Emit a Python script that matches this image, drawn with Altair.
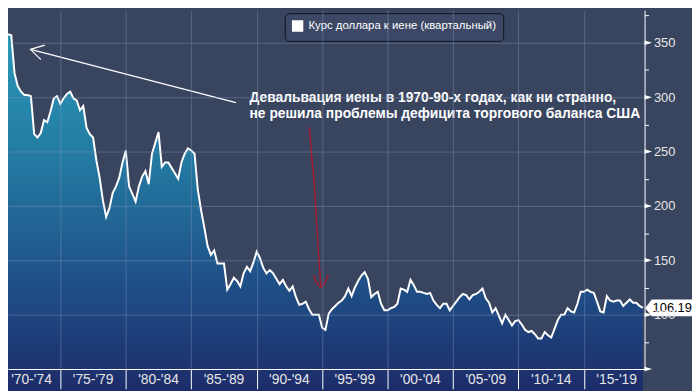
import altair as alt
import pandas as pd

# ---------------- data ----------------
series_name = "Курс доллара к иене (квартальный)"
start_year = 1971  # first quarter shown: 1971 Q1
rate = [
    358, 357, 322, 310,   # 1971
    305, 302, 302, 301,   # 1972
    266, 263, 267, 279,   # 1973
    277, 287, 299, 301,   # 1974
    294, 299, 303, 305,   # 1975
    299, 297, 288, 292,   # 1976
    272, 266, 263, 242,   # 1977
    226, 205, 190, 198,   # 1978
    212, 218, 226, 240,   # 1979
    251, 218, 211, 204,   # 1980
    218, 227, 232, 220,   # 1981
    248, 258, 268, 236,   # 1982
    240, 240, 235, 230,   # 1983
    225, 240, 248, 253,   # 1984
    251, 248, 215, 196,   # 1985
    180, 163, 155, 159,   # 1986
    147, 147, 147, 123,   # 1987
    128, 134, 131, 126,   # 1988
    138, 144, 140, 148,   # 1989
    158, 152, 143, 138,   # 1990
    141, 138, 133, 128,   # 1991
    132, 126, 122, 126,   # 1992
    116, 109, 110, 112,   # 1993
    105, 100, 100, 100,   # 1994
    88, 86, 101, 105,     # 1995
    108, 111, 113, 117,   # 1996
    124, 117, 125, 131,   # 1997
    136, 139, 133, 116,   # 1998
    119, 121, 110, 104,   # 1999
    104, 106, 107, 110,   # 2000
    124, 123, 121, 132,   # 2001
    127, 121, 121, 120,   # 2002
    119, 120, 113, 109,   # 2003
    106, 110, 110, 104,   # 2004
    108, 112, 116, 119,   # 2005
    118, 114, 118, 119,   # 2006
    121, 124, 115, 111,   # 2007
    102, 106, 99, 92,     # 2008
    100, 95, 90, 94,      # 2009
    95, 91, 86, 84,       # 2010
    85, 82, 78, 78,       # 2011
    84, 81, 79, 87,       # 2012
    95, 100, 100, 106,    # 2013
    103, 102, 110, 121,   # 2014
    121, 123, 121, 120,   # 2015
    112, 103, 102, 117,   # 2016
    113, 112, 113, 113,   # 2017
    108, 111, 114, 111,   # 2018
    111, 108, 106.19,     # 2019
]

band_labels = ["'70-'74", "'75-'79", "'80-'84", "'85-'89", "'90-'94",
               "'95-'99", "'00-'04", "'05-'09", "'10-'14", "'15-'19"]
band_centers = [1972.8, 1977.5, 1982.5, 1987.5, 1992.5,
                1997.5, 2002.5, 2007.5, 2012.5, 2017.5]
band_bounds = [1975, 1980, 1985, 1990, 1995, 2000, 2005, 2010, 2015]

y_marker = [50, 100, 150, 200, 250, 300, 350]
y_ticks = [50, 75, 100, 125, 150, 175, 200, 225, 250, 275, 300, 325, 350, 375]

note_lines = ["Девальвация иены в 1970-90-х годах, как ни странно,",
              "не решила проблемы дефицита торгового баланса США"]
note_year = [1989.45, 1989.45]
note_value = [295.5, 281.2]

# white arrow (shaft + head), in data coordinates
white_arrow_year = [1988.41, 1972.72, 1973.81, 1972.72, 1973.51]
white_arrow_value = [295.0, 344.0, 347.9, 344.0, 334.5]
white_arrow_seg = [0, 0, 1, 1, 1]
# red arrow
red_arrow_year = [1994.03, 1994.19, 1994.40, 1994.53, 1994.70, 1994.90,
                  1994.33, 1994.90, 1995.48]
red_arrow_value = [272.2, 246.3, 220.2, 193.5, 160.6, 125.2,
                   136.2, 125.2, 137.1]
red_arrow_seg = [0, 0, 0, 0, 0, 0, 1, 1, 1]

# ---------------- tables ----------------
df = pd.DataFrame({
    "year": [start_year + i * 0.25 for i in range(len(rate))],
    "rate": rate,
    "series": series_name,
})
df_bands = pd.DataFrame({"year": band_centers, "t": band_labels})
df_marker = pd.DataFrame({"rate": y_marker})
df_note = pd.DataFrame({"year": note_year, "rate": note_value, "t": note_lines})
df_warrow = pd.DataFrame({"year": white_arrow_year, "rate": white_arrow_value,
                          "seg": white_arrow_seg,
                          "o": list(range(len(white_arrow_year)))})
df_rarrow = pd.DataFrame({"year": red_arrow_year, "rate": red_arrow_value,
                          "seg": red_arrow_seg,
                          "o": list(range(len(red_arrow_year)))})
df_last = pd.DataFrame({"rate": [rate[-1]], "t": [f"{rate[-1]:.2f}"]})

# ---------------- chart ----------------
W, H = 644, 363
FONT = "Liberation Sans"
GRID = "#7f92b4"

x_scale = alt.Scale(domain=[1971, 2019.63], nice=False, zero=False)
y_scale = alt.Scale(domain=[50, 380], nice=False, zero=False)

x_axis = alt.Axis(values=band_bounds, title=None, labels=False, tickSize=20,
                  tickColor="white", tickWidth=1, domainColor="white",
                  domainWidth=1.2, grid=True, gridColor=GRID,
                  gridOpacity=0.45, gridWidth=1, zindex=1)
y_axis = alt.Axis(orient="right", values=y_ticks, title=None, tickSize=4,
                  tickColor="white", tickWidth=1, domainColor="white",
                  domainWidth=1, grid=True, gridColor=GRID, gridWidth=1,
                  gridOpacity={"condition": {"test": "datum.value % 50 == 0 && datum.value >= 100 && datum.value <= 350",
                                             "value": 0.45},
                               "value": 0},
                  labelOverlap=False, zindex=1,
                  labelExpr="(datum.value % 50 == 0 && datum.value >= 100 && datum.value <= 350) ? datum.label : ''",
                  labelFontSize=13, labelColor="#e8e8e8", labelPadding=5,
                  labelFont=FONT)

X = alt.X("year:Q", scale=x_scale, axis=x_axis)
Y = alt.Y("rate:Q", scale=y_scale, axis=y_axis)

area = alt.Chart(df).mark_area(
    color=alt.Gradient(gradient="linear", x1=0, x2=0, y1=0, y2=1,
                       stops=[alt.GradientStop(color="#2b99b8", offset=0),
                              alt.GradientStop(color="#2379a1", offset=0.33),
                              alt.GradientStop(color="#1f4d86", offset=0.66),
                              alt.GradientStop(color="#1b2160", offset=1)])
).encode(x=X, y=Y)

line = alt.Chart(df).mark_line(strokeWidth=2).encode(
    x=X, y=Y,
    color=alt.Color("series:N", scale=alt.Scale(range=["white"]),
                    legend=alt.Legend(title=None, orient="none", legendX=280,
                                      legendY=3, symbolType="square",
                                      symbolSize=100, symbolFillColor="white",
                                      symbolStrokeColor="white",
                                      labelColor="white", labelFontSize=11.5,
                                      labelFont=FONT, labelLimit=400,
                                      fillColor="#3c4866",
                                      strokeColor="#12151c", cornerRadius=4,
                                      padding=7, labelOffset=5)),
)

warrow = alt.Chart(df_warrow).mark_line(color="white", strokeWidth=1.2).encode(
    x=X, y=Y, detail="seg:N", order="o:Q",
)
rarrow = alt.Chart(df_rarrow).mark_line(color="#a31d33", strokeWidth=1.5,
                                        interpolate="monotone").encode(
    x=X, y=Y, detail="seg:N", order="o:Q",
)

note = alt.Chart(df_note).mark_text(
    align="left", baseline="alphabetic", fontSize=14, fontWeight="bold",
    color="white", font=FONT
).encode(x=X, y=Y, text="t:N")

markers = alt.Chart(df_marker).mark_point(
    shape="M-1,-0.6L1,0L-1,0.6Z", size=58, filled=True, color="white",
    opacity=1, strokeWidth=0
).encode(x=alt.value(W + 3.8), y=Y)

box = alt.Chart(df_last).mark_point(
    shape="M-1,0L-0.72,-0.36L1,-0.36L1,0.36L-0.72,0.36Z", size=2247,
    filled=True, color="white", opacity=1, strokeWidth=0
).encode(x=alt.value(W + 24.3), y=Y)

box_text = alt.Chart(df_last).mark_text(
    align="center", baseline="middle", fontSize=13, color="#000000", font=FONT
).encode(x=alt.value(W + 28), y=Y, text="t:N")

band_text = alt.Chart(df_bands).mark_text(
    align="center", baseline="middle", fontSize=14, color="#e6e6e6", font=FONT
).encode(x=X, y=alt.value(H + 11), text="t:N")

chart = alt.layer(
    area, line, warrow, rarrow, note,
    markers, box, box_text, band_text
).properties(
    width=W, height=H,
    padding={"left": 0, "top": 0, "right": 48, "bottom": 20},
    autosize=alt.AutoSizeParams(type="none"),
).configure(
    background="#39445f"
).configure_view(stroke=None)

chart.save("out.html", embed_options={"renderer": "svg", "actions": False})
